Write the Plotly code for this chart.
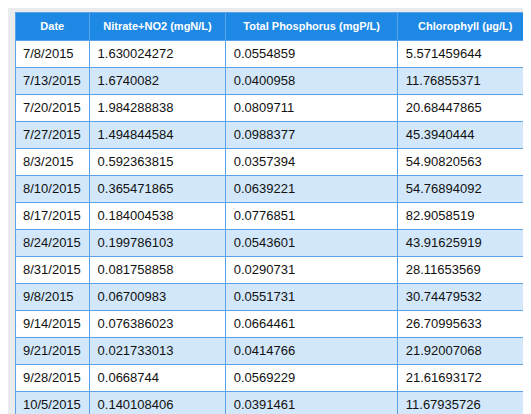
import plotly.graph_objects as go

headers = ['Date', 'Nitrate+NO2 (mgN/L)', 'Total Phosphorus (mgP/L)', 'Chlorophyll (µg/L)']
dates = ['7/8/2015', '7/13/2015', '7/20/2015', '7/27/2015', '8/3/2015', '8/10/2015',
         '8/17/2015', '8/24/2015', '8/31/2015', '9/8/2015', '9/14/2015', '9/21/2015',
         '9/28/2015', '10/5/2015']
nitrate = ['1.630024272', '1.6740082', '1.984288838', '1.494844584', '0.592363815',
           '0.365471865', '0.184004538', '0.199786103', '0.081758858', '0.06700983',
           '0.076386023', '0.021733013', '0.0668744', '0.140108406']
phosphorus = ['0.0554859', '0.0400958', '0.0809711', '0.0988377', '0.0357394', '0.0639221',
              '0.0776851', '0.0543601', '0.0290731', '0.0551731', '0.0664461', '0.0414766',
              '0.0569229', '0.0391461']
chlorophyll = ['5.571459644', '11.76855371', '20.68447865', '45.3940444', '54.90820563',
               '54.76894092', '82.9058519', '43.91625919', '28.11653569', '30.74479532',
               '26.70995633', '21.92007068', '21.61693172', '11.67935726']

row_colors = ['#ffffff' if i % 2 == 0 else '#d2e7f9' for i in range(len(dates))]

fig = go.Figure(go.Table(
    columnwidth=[75, 137, 173, 136],
    header=dict(
        values=['<b>%s</b>' % h for h in headers],
        fill_color='#1e88e5',
        line_color='#5ba3e6',
        font=dict(family='Liberation Sans', size=11, color='white'),
        align='center',
        height=25,
    ),
    cells=dict(
        values=[dates, nitrate, phosphorus, chlorophyll],
        fill_color=[row_colors] * 4,
        line_color='#5ba3e6',
        font=dict(family='Liberation Sans', size=13, color='#111'),
        align='left',
        height=27,
    ),
))

fig.update_layout(
    width=531, height=414,
    margin=dict(l=7, r=6, t=4, b=0),
    paper_bgcolor='#e9ebee',
)
fig.write_html('out.html')
